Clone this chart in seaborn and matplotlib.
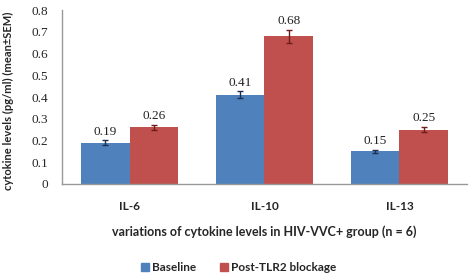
import matplotlib
matplotlib.use("Agg")
import matplotlib.pyplot as plt
import seaborn as sns
import pandas as pd
import numpy as np

categories = ["IL-6", "IL-10", "IL-13"]
series = ["Baseline", "Post-TLR2 blockage"]
baseline = [0.19, 0.41, 0.15]
post = [0.26, 0.68, 0.25]
baseline_sem = [0.010, 0.016, 0.007]
post_sem = [0.011, 0.030, 0.012]
yticks = [0, 0.1, 0.2, 0.3, 0.4, 0.5, 0.6, 0.7, 0.8]

df = pd.DataFrame({
    "cat": categories * 2,
    "series": [series[0]] * 3 + [series[1]] * 3,
    "value": baseline + post,
    "sem": baseline_sem + post_sem,
})

sns.set_style("white")
plt.rcParams["font.family"] = ["Lato", "DejaVu Sans"]
colors = ["#4F81BD", "#C0504D"]
err_colors = ["#1F2F4F", "#6E1C1A"]
serif = ["Liberation Serif", "DejaVu Serif"]

fig = plt.figure(figsize=(4.74, 2.8), dpi=100)
ax = fig.add_axes([0.131, 0.343, 0.854, 0.621])
sns.barplot(data=df, x="cat", y="value", hue="series", order=categories,
            hue_order=series, palette=colors, errorbar=None, width=0.72,
            saturation=1, ax=ax, linewidth=0)

for ci, (cont, s) in enumerate(zip(ax.containers, series)):
    sub = df[df["series"] == s].set_index("cat").loc[categories]
    for bar, v, e in zip(cont, sub["value"], sub["sem"]):
        xc = bar.get_x() + bar.get_width() / 2
        ax.errorbar(xc, v, yerr=e, fmt="none", ecolor=err_colors[ci],
                    elinewidth=1, capsize=2.5, capthick=1)
        ax.text(xc, v + e + 0.012, f"{v:.2f}", ha="center", va="bottom",
                fontsize=9.5, family=serif, color="#222222")

ax.set_ylim(0, 0.8)
ax.set_xlim(-0.5, 2.5)
ax.set_yticks(yticks)
ax.set_yticklabels([("0" if t == 0 else f"{t:.1f}") for t in yticks],
                   family=serif, fontsize=9.5)
ax.tick_params(axis="y", length=0, pad=10)
ax.tick_params(axis="x", length=0, pad=12)
for lab in ax.get_xticklabels():
    lab.set_fontweight("bold")
    lab.set_fontsize(8.5)
ax.set_xlabel("variations of cytokine levels in HIV-VVC+ group (n = 6)",
              fontsize=9, fontweight="bold", labelpad=10)
ax.set_ylabel("cytokine levels (pg/ml) (mean±SEM)", fontsize=8,
              fontweight="bold", labelpad=8)
ax.yaxis.set_label_coords(-0.118, 0.48)
sns.despine(ax=ax)
for sp in ["left", "bottom"]:
    ax.spines[sp].set_color("#999999")
    ax.spines[sp].set_linewidth(1)

handles = [plt.Line2D([], [], marker="s", linestyle="", color=c, markersize=6)
           for c in colors]
leg = ax.get_legend()
if leg:
    leg.remove()
fig.legend(handles, series, loc="center", bbox_to_anchor=(0.5, 0.045),
           ncol=2, frameon=False, prop={"weight": "bold", "size": 8.5},
           handletextpad=0.0, columnspacing=1.8, handlelength=1.2)

fig.savefig("out.png", dpi=100)
